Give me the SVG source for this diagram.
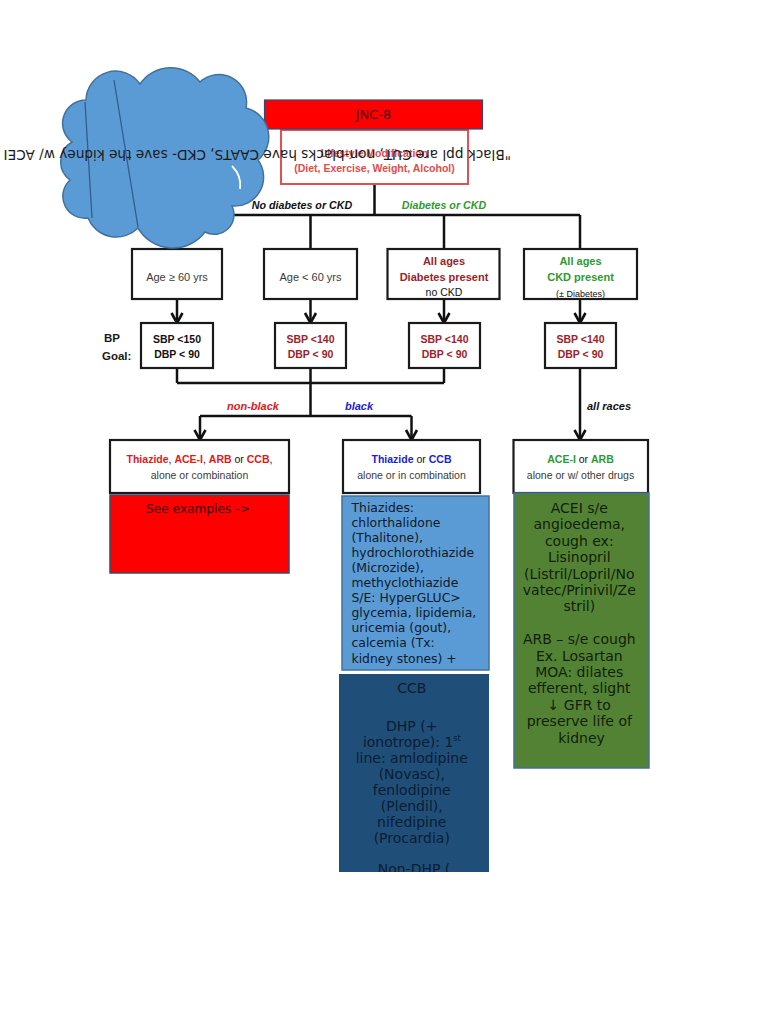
<svg xmlns="http://www.w3.org/2000/svg" width="768" height="1024" viewBox="0 0 768 1024">
<style>
.ln{fill:none;stroke:#111;stroke-width:2.5}
.arr{fill:none;stroke:#111;stroke-width:2.5;marker-end:url(#ah)}
.box{fill:#fff;stroke:#1a1a1a;stroke-width:2.2}
.t{font-family:"Liberation Sans",Arial,sans-serif;font-size:11px;text-anchor:middle;fill:#3a3a3a}
.b{font-weight:bold}
.bi{font-weight:bold;font-style:italic}
.k{fill:#111}
.dr{fill:#9B2328}
.gr{fill:#2E9A2E}
.rd{fill:#E5161C}
.bl{fill:#2020D8}
.dj{font-family:"DejaVu Sans",Verdana,sans-serif}
</style>
<defs>
<marker id="ah" markerUnits="userSpaceOnUse" markerWidth="14" markerHeight="14" viewBox="0 0 14 14" refX="12" refY="7" orient="auto">
<path d="M2,1.5 L12,7 L2,12.5" fill="none" stroke="#111" stroke-width="2.6"/>
</marker>
<clipPath id="ccbclip"><rect x="339" y="674" width="150" height="198"/></clipPath>
</defs>
<rect width="768" height="1024" fill="#fff"/>

<g id="connectors">
<path class="ln" d="M374.5,185 V215 M177,215 H580 M177,215 V249 M310.5,215 V249 M444,215 V249 M580,215 V249"/>
<path class="arr" d="M177,299 V323"/>
<path class="arr" d="M310.5,299 V323"/>
<path class="arr" d="M444,299 V323"/>
<path class="arr" d="M580,299 V323"/>
<path class="ln" d="M177,368 V383 M310.5,368 V383 M444,368 V383 M177,383 H444 M310.5,383 V416 M200,416 H411.5"/>
<path class="arr" d="M200,416 V440"/>
<path class="arr" d="M411.5,416 V440"/>
<path class="arr" d="M580,368 V440"/>
<text class="t bi" x="302" y="209" style="font-size:10.7px;fill:#111">No diabetes or CKD</text>
<text class="t bi gr" x="444" y="209" style="font-size:10.7px">Diabetes or CKD</text>
<text class="t bi rd" x="253" y="410" style="font-size:11px">non-black</text>
<text class="t bi bl" x="359" y="410" style="font-size:11px">black</text>
<text class="t bi" x="609" y="410" style="font-size:11px;fill:#111">all races</text>
<text class="t b" x="104" y="342" style="font-size:11.5px;text-anchor:start;fill:#1a1a1a">BP</text>
<text class="t b" x="102" y="360" style="font-size:11.5px;text-anchor:start;fill:#1a1a1a">Goal:</text>
</g>

<g id="lifestyle">
<rect x="281" y="130" width="187" height="54" fill="#fff" stroke="#E45050" stroke-width="2"/>
<text class="t b" x="374.5" y="157" style="font-size:10.5px;fill:#E24B4B">Lifestyle Modification</text>
<text class="t b" x="374.5" y="172" style="font-size:10.5px;fill:#E24B4B">(Diet, Exercise, Weight, Alcohol)</text>
</g>

<g id="jnc8">
<rect x="264.5" y="100" width="218" height="29" fill="#FF0000" stroke="#2F4A7A" stroke-width="1.2"/>
<text class="dj" x="373.5" y="118.5" text-anchor="middle" font-size="13" fill="#3d0000">JNC-8</text>
</g>

<g id="age60plus">
<rect class="box" x="132" y="249" width="90" height="50"/>
<text class="t" x="177" y="281">Age ≥ 60 yrs</text>
</g>
<g id="ageunder60">
<rect class="box" x="264" y="249" width="93" height="50"/>
<text class="t" x="310.5" y="281">Age &lt; 60 yrs</text>
</g>
<g id="diabetes">
<rect class="box" x="387.5" y="249" width="112" height="50"/>
<text class="t b dr" x="444" y="265">All ages</text>
<text class="t b dr" x="444" y="281">Diabetes present</text>
<text class="t k" x="444" y="296" style="font-size:10.5px">no CKD</text>
</g>
<g id="ckd">
<rect class="box" x="524" y="249" width="113" height="50"/>
<text class="t b gr" x="580.5" y="265">All ages</text>
<text class="t b gr" x="580.5" y="281">CKD present</text>
<text class="t k" x="580.5" y="297" style="font-size:9px">(± Diabetes)</text>
</g>

<g id="goal150">
<rect class="box" x="141" y="323" width="72" height="45"/>
<text class="t b k" x="177" y="343" style="font-size:10.5px">SBP &lt;150</text>
<text class="t b k" x="177" y="358" style="font-size:10.5px">DBP &lt; 90</text>
</g>
<g id="goal140a">
<rect class="box" x="275" y="323" width="71" height="45"/>
<text class="t b dr" x="310.5" y="343" style="font-size:10.5px">SBP &lt;140</text>
<text class="t b dr" x="310.5" y="358" style="font-size:10.5px">DBP &lt; 90</text>
</g>
<g id="goal140b">
<rect class="box" x="409" y="323" width="71" height="45"/>
<text class="t b dr" x="444.5" y="343" style="font-size:10.5px">SBP &lt;140</text>
<text class="t b dr" x="444.5" y="358" style="font-size:10.5px">DBP &lt; 90</text>
</g>
<g id="goal140c">
<rect class="box" x="545" y="323" width="71" height="45"/>
<text class="t b dr" x="580.5" y="343" style="font-size:10.5px">SBP &lt;140</text>
<text class="t b dr" x="580.5" y="358" style="font-size:10.5px">DBP &lt; 90</text>
</g>

<g id="nonblack">
<rect class="box" x="110" y="440" width="179" height="53"/>
<text class="t" x="199.5" y="463" style="font-size:10.5px"><tspan class="b rd">Thiazide</tspan><tspan class="k">, </tspan><tspan class="b rd">ACE-I</tspan><tspan class="k">, </tspan><tspan class="b rd">ARB</tspan><tspan class="k"> or </tspan><tspan class="b rd">CCB</tspan><tspan class="k">,</tspan></text>
<text class="t" x="199.5" y="479" style="font-size:10.5px">alone or combination</text>
</g>
<g id="black">
<rect class="box" x="343" y="440" width="137" height="53"/>
<text class="t" x="411.5" y="463" style="font-size:10.5px"><tspan class="b bl">Thiazide</tspan><tspan class="k"> or </tspan><tspan class="b bl">CCB</tspan></text>
<text class="t" x="411.5" y="479" style="font-size:10.5px">alone or in combination</text>
</g>
<g id="allraces">
<rect class="box" x="513.5" y="440" width="134.5" height="53"/>
<text class="t" x="580.5" y="463" style="font-size:10.5px"><tspan class="b gr">ACE-I</tspan><tspan class="k"> or </tspan><tspan class="b gr">ARB</tspan></text>
<text class="t" x="580.5" y="479" style="font-size:10.5px">alone or w/ other drugs</text>
</g>

<g id="examples">
<rect x="110" y="495" width="179" height="78" fill="#FF0000" stroke="#3F4A6B" stroke-width="1.5"/>
<text class="dj" x="198" y="512.5" text-anchor="middle" font-size="12.2" fill="#3d0000">See examples -&gt;</text>
</g>

<g id="thiazides">
<rect x="342" y="496" width="147" height="174" fill="#5B9BD5" stroke="#41719C" stroke-width="1.5"/>
<text class="dj" font-size="12.4" fill="#0e1a28">
<tspan x="351.5" y="511.5">Thiazides:</tspan>
<tspan x="351.5" y="526.6">chlorthalidone</tspan>
<tspan x="351.5" y="541.7">(Thalitone),</tspan>
<tspan x="351.5" y="556.8">hydrochlorothiazide</tspan>
<tspan x="351.5" y="571.9">(Microzide),</tspan>
<tspan x="351.5" y="587">methyclothiazide</tspan>
<tspan x="351.5" y="602.1">S/E: HyperGLUC&gt;</tspan>
<tspan x="351.5" y="617.2">glycemia, lipidemia,</tspan>
<tspan x="351.5" y="632.3">uricemia (gout),</tspan>
<tspan x="351.5" y="647.4">calcemia (Tx:</tspan>
<tspan x="351.5" y="662.5">kidney stones) +</tspan>
</text>
</g>

<g id="ccb">
<rect x="339" y="674" width="150" height="198" fill="#1F4E79"/>
<g clip-path="url(#ccbclip)">
<text class="dj" font-size="14" fill="#0b1d31" text-anchor="middle">
<tspan x="414" y="693">CCB</tspan>
<tspan x="414" y="731">DHP (+</tspan>
<tspan x="414" y="747">ionotrope): 1<tspan font-size="8" dy="-6">st</tspan></tspan>
<tspan x="414" y="763">line: amlodipine</tspan>
<tspan x="414" y="779">(Novasc),</tspan>
<tspan x="414" y="795">fenlodipine</tspan>
<tspan x="414" y="811">(Plendil),</tspan>
<tspan x="414" y="827">nifedipine</tspan>
<tspan x="414" y="843">(Procardia)</tspan>
<tspan x="414" y="874">Non-DHP (</tspan>
</text>
</g>
</g>

<g id="acei">
<rect x="514" y="493" width="135" height="275" fill="#548235" stroke="#41719C" stroke-width="1.5"/>
<text class="dj" font-size="14" fill="#0f1f08" text-anchor="middle">
<tspan x="581.5" y="513">ACEI s/e</tspan>
<tspan x="581.5" y="529.4">angioedema,</tspan>
<tspan x="581.5" y="545.8">cough ex:</tspan>
<tspan x="581.5" y="562.2">Lisinopril</tspan>
<tspan x="581.5" y="578.6">(Listril/Lopril/No</tspan>
<tspan x="581.5" y="595">vatec/Prinivil/Ze</tspan>
<tspan x="581.5" y="611.4">stril)</tspan>
<tspan x="581.5" y="644.2">ARB – s/e cough</tspan>
<tspan x="581.5" y="660.6">Ex. Losartan</tspan>
<tspan x="581.5" y="677">MOA: dilates</tspan>
<tspan x="581.5" y="693.4">efferent, slight</tspan>
<tspan x="581.5" y="709.8">↓ GFR to</tspan>
<tspan x="581.5" y="726.2">preserve life of</tspan>
<tspan x="581.5" y="742.6">kidney</tspan>
</text>
</g>

<g id="cloud">
<path d="M72,142 A23.3,23.3 0 0 1 86,100 A29.6,29.6 0 0 1 140,84 A37.2,37.2 0 0 1 200,82 A27.7,27.7 0 0 1 246,108 A29.9,29.9 0 0 1 258,160 A29,29 0 0 1 232,206 A19.7,19.7 0 0 1 205,232 A40.3,40.3 0 0 1 138,228 A30.6,30.6 0 0 1 88,218 A22,22 0 0 1 70,180 A22.8,22.8 0 0 1 72,142 Z" fill="#5B9BD5" stroke="#41719C" stroke-width="1.5"/>
<path d="M85,102 L92,218 M114,80 L138,227" stroke="#2F5F8A" stroke-width="1.3" fill="none"/>
<path d="M232,166 Q242,176 240,189" stroke="#fff" stroke-width="1.8" fill="none"/>
</g>

<g id="mnemonic">
<text class="dj" transform="translate(511,150) rotate(180)" x="0" y="0" font-size="13.65" fill="#1a1a1a">"Black ppl are CUT, non-blacks have CAATS, CKD- save the kidney w/ ACEI</text>
</g>
</svg>
